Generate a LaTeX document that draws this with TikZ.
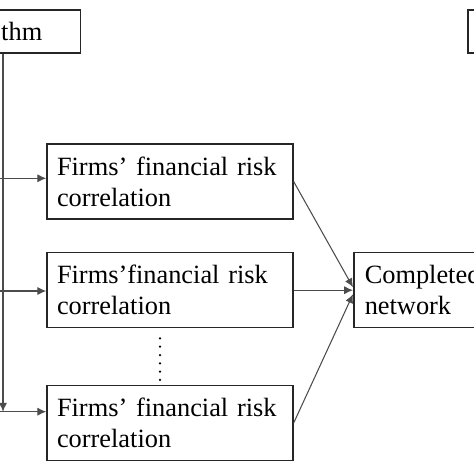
\documentclass[tikz,border=0pt]{standalone}
\usepackage{fontspec}
\setmainfont{Liberation Serif}
\usetikzlibrary{arrows.meta}
\begin{document}
\begin{tikzpicture}[
	box/.style={draw=black!85, line width=0.85pt, minimum width=4.92cm, minimum height=1.5cm,
		text width=4.52cm, inner xsep=0.2cm, align=left, font=\fontsize{15}{17.6}\selectfont},
	link/.style={draw=black!70, line width=0.6pt, -{Latex[length=5pt,width=4.6pt]}},
	]
	\useasboundingbox (0,0) rectangle (9.48,9.48);
	\clip (0,0) rectangle (9.48,9.48);
	\node[box, minimum width=4cm, minimum height=0.86cm, text width=2.48cm, inner xsep=0.76cm, align=right, anchor=east] (algo) at (1.62,8.85) {thm};
	\node[box, minimum width=3cm, minimum height=0.86cm, anchor=west] (other) at (9.34,8.85) {};
	\node[box] (corr1) at (3.4,5.846) {Firms’ financial risk\\correlation};
	\node[box] (corr2) at (3.4,3.676) {Firms’financial risk\\correlation};
	\node[box] (corr3) at (3.4,1.024) {Firms’ financial risk\\correlation};
	\node[box, anchor=west, inner xsep=0.22cm] (done) at (7.06,3.676) {Completed\\network};
	\coordinate (in1) at (-0.2,5.914);
	\coordinate (in2) at (-0.2,3.66);
	\coordinate (in3) at (-0.2,1.246);
	\coordinate (trunk) at (0.06,1.246);
	\draw[link] (algo.south -| trunk) -- (trunk);
	\draw[link] (in1) -- (in1 -| corr1.west);
	\draw[link] (in2) -- (in2 -| corr2.west);
	\draw[link] (in3) -- (in3 -| corr3.west);
	\draw[link] (corr1.east) -- ([yshift=0.06cm]done.west);
	\draw[link] (corr2.east) -- (done.west);
	\draw[link] (corr3.east) -- ([yshift=-0.08cm]done.west);
	\draw[line width=0.05cm, line cap=round, dash pattern=on 0pt off 0.166cm] ([xshift=-0.2cm,yshift=-0.2cm]corr2.south) -- ([xshift=-0.2cm]corr3.north);
\end{tikzpicture}
\end{document}
